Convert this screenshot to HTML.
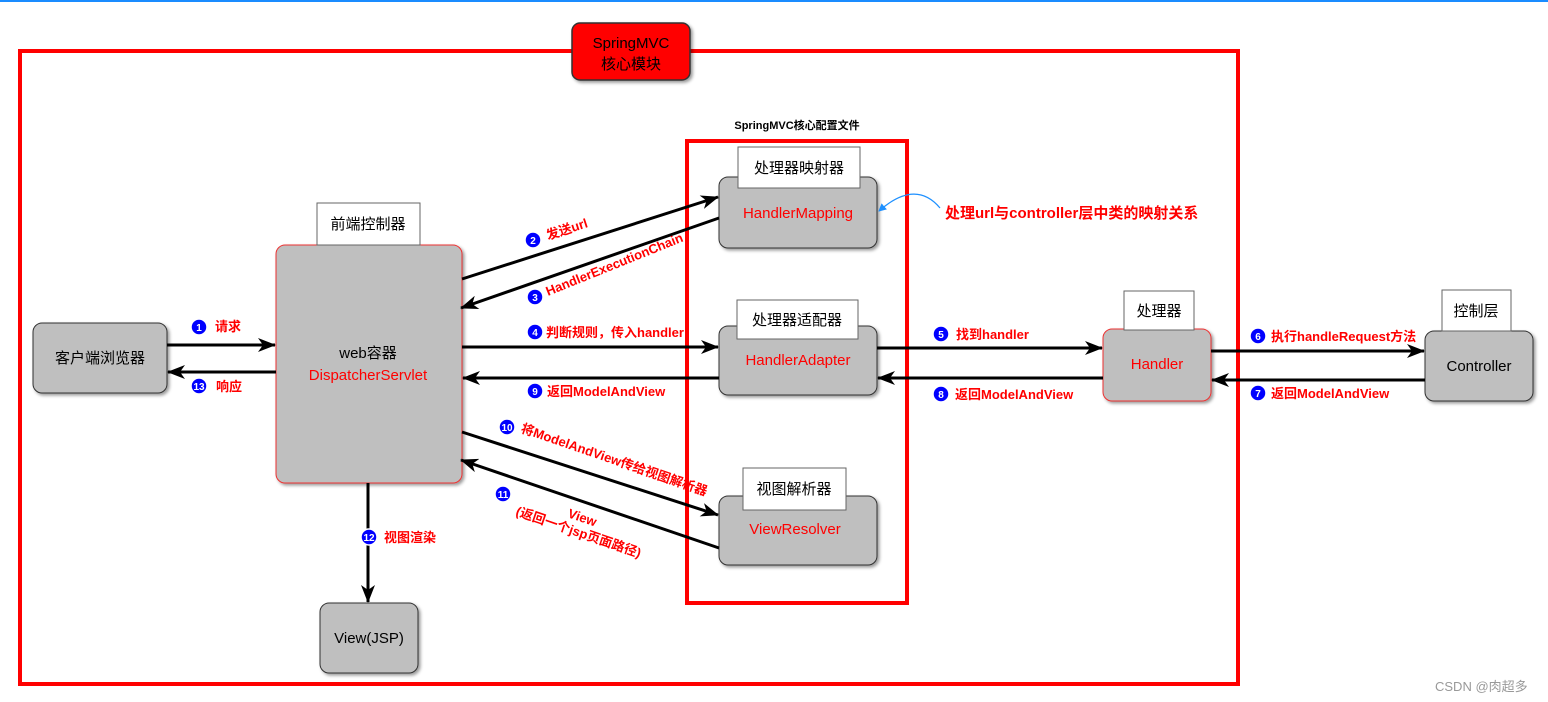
<!DOCTYPE html>
<html><head><meta charset="utf-8"><style>
body{margin:0;background:#fff;}
svg{display:block;font-family:"Liberation Sans","Noto Sans CJK SC",sans-serif;}
.r{fill:#f00;font-weight:bold;font-size:13px;}
.n{fill:#00f;stroke:#fff;stroke-width:1.5}
.nt{fill:#fff;font-size:10px;font-weight:bold;text-anchor:middle}
</style></head><body>
<svg width="1548" height="702" viewBox="0 0 1548 702">
<defs>
<marker id="a" markerWidth="18" markerHeight="14" refX="17" refY="7" orient="auto" markerUnits="userSpaceOnUse"><path d="M0,0 L18,7 L0,14 L5,7 z" fill="#000"/></marker>
<marker id="b" markerWidth="8" markerHeight="8" refX="7" refY="4" orient="auto" markerUnits="userSpaceOnUse"><path d="M0,0 L8,4 L0,8 z" fill="#1e90ff"/></marker>
<filter id="s" x="-10%" y="-10%" width="130%" height="130%"><feDropShadow dx="2" dy="2" stdDeviation="1.5" flood-opacity="0.4"/></filter>
</defs>
<rect x="0" y="0" width="1548" height="2" fill="#1a8cff"/>
<rect x="20" y="51" width="1218" height="633" fill="none" stroke="#f00" stroke-width="4"/>
<rect x="572" y="23" width="118" height="57" rx="8" fill="#f00" stroke="#333" stroke-width="1.5" filter="url(#s)"/>
<text x="631" y="48" text-anchor="middle" font-size="15">SpringMVC</text>
<text x="631" y="69" text-anchor="middle" font-size="15">核心模块</text>
<rect x="687" y="141" width="220" height="462" fill="none" stroke="#f00" stroke-width="4"/>
<text x="797" y="129" text-anchor="middle" font-size="11" font-weight="bold">SpringMVC核心配置文件</text>

<g font-size="15" text-anchor="middle">
<rect x="33" y="323" width="134" height="70" rx="9" fill="#bfbfbf" stroke="#333" filter="url(#s)"/>
<text x="100" y="363">客户端浏览器</text>
<rect x="276" y="245" width="186" height="238" rx="9" fill="#bfbfbf" stroke="#e33" filter="url(#s)"/>
<rect x="317" y="203" width="103" height="42" fill="#fff" stroke="#666"/>
<text x="368" y="229">前端控制器</text>
<text x="368" y="358">web容器</text>
<text x="368" y="380" fill="#f00">DispatcherServlet</text>

<rect x="719" y="177" width="158" height="71" rx="9" fill="#bfbfbf" stroke="#333" filter="url(#s)"/>
<rect x="738" y="147" width="122" height="41" fill="#fff" stroke="#666"/>
<text x="799" y="173">处理器映射器</text>
<text x="798" y="218" fill="#f00">HandlerMapping</text>

<rect x="719" y="326" width="158" height="69" rx="9" fill="#bfbfbf" stroke="#333" filter="url(#s)"/>
<rect x="737" y="300" width="121" height="39" fill="#fff" stroke="#666"/>
<text x="797" y="325">处理器适配器</text>
<text x="798" y="365" fill="#f00">HandlerAdapter</text>

<rect x="719" y="496" width="158" height="69" rx="9" fill="#bfbfbf" stroke="#333" filter="url(#s)"/>
<rect x="743" y="468" width="103" height="42" fill="#fff" stroke="#666"/>
<text x="794" y="494">视图解析器</text>
<text x="795" y="534" fill="#f00">ViewResolver</text>

<rect x="1103" y="329" width="108" height="72" rx="9" fill="#bfbfbf" stroke="#e33" filter="url(#s)"/>
<rect x="1124" y="291" width="70" height="39" fill="#fff" stroke="#666"/>
<text x="1159" y="316">处理器</text>
<text x="1157" y="369" fill="#f00">Handler</text>

<rect x="1425" y="331" width="108" height="70" rx="9" fill="#bfbfbf" stroke="#333" filter="url(#s)"/>
<rect x="1442" y="290" width="69" height="41" fill="#fff" stroke="#666"/>
<text x="1476" y="316">控制层</text>
<text x="1479" y="371">Controller</text>

<rect x="320" y="603" width="98" height="70" rx="9" fill="#bfbfbf" stroke="#333" filter="url(#s)"/>
<text x="369" y="643">View(JSP)</text>
</g>

<g stroke="#000" stroke-width="3" marker-end="url(#a)">
<line x1="167" y1="345" x2="275" y2="345"/>
<line x1="276" y1="372" x2="168" y2="372"/>
<line x1="462" y1="279" x2="718" y2="197"/>
<line x1="719" y1="218" x2="461" y2="308"/>
<line x1="462" y1="347" x2="718" y2="347"/>
<line x1="719" y1="378" x2="463" y2="378"/>
<line x1="462" y1="432" x2="718" y2="515"/>
<line x1="719" y1="548" x2="461" y2="460"/>
<line x1="368" y1="483" x2="368" y2="602"/>
<line x1="877" y1="348" x2="1102" y2="348"/>
<line x1="1103" y1="378" x2="878" y2="378"/>
<line x1="1211" y1="351" x2="1424" y2="351"/>
<line x1="1425" y1="380" x2="1212" y2="380"/>
</g>
<path d="M940,208 C925,190 905,188 879,211" fill="none" stroke="#1e90ff" stroke-width="1.2" marker-end="url(#b)"/>
<text x="945" y="218" font-size="15" font-weight="bold" fill="#f00">处理url与controller层中类的映射关系</text>

<g>
<circle class="n" cx="199" cy="327" r="8"/><text class="nt" x="199" y="331">1</text><text class="r" x="215" y="331">请求</text>
<circle class="n" cx="199" cy="386" r="8"/><text class="nt" x="199" y="390">13</text><text class="r" x="216" y="391">响应</text>
<circle class="n" cx="533" cy="240" r="8"/><text class="nt" x="533" y="244">2</text>
<text class="r" transform="translate(548,240) rotate(-18)">发送url</text>
<circle class="n" cx="535" cy="297" r="8"/><text class="nt" x="535" y="301">3</text>
<text class="r" transform="translate(548,296) rotate(-22)">HandlerExecutionChain</text>
<circle class="n" cx="535" cy="332" r="8"/><text class="nt" x="535" y="336">4</text><text class="r" x="546" y="337">判断规则，传入handler</text>
<circle class="n" cx="535" cy="391" r="8"/><text class="nt" x="535" y="395">9</text><text class="r" x="547" y="396">返回ModelAndView</text>
<circle class="n" cx="507" cy="427" r="8"/><text class="nt" x="507" y="431">10</text>
<text class="r" transform="translate(520,432) rotate(19)">将ModelAndView传给视图解析器</text>
<circle class="n" cx="503" cy="494" r="8"/><text class="nt" x="503" y="498">11</text>
<text class="r" transform="translate(567,517) rotate(19)">View</text>
<text class="r" transform="translate(515,515) rotate(19)">(返回一个jsp页面路径)</text>
<circle class="n" cx="369" cy="537" r="8"/><text class="nt" x="369" y="541">12</text><text class="r" x="384" y="542">视图渲染</text>
<circle class="n" cx="941" cy="334" r="8"/><text class="nt" x="941" y="338">5</text><text class="r" x="956" y="339">找到handler</text>
<circle class="n" cx="941" cy="394" r="8"/><text class="nt" x="941" y="398">8</text><text class="r" x="955" y="399">返回ModelAndView</text>
<circle class="n" cx="1258" cy="336" r="8"/><text class="nt" x="1258" y="340">6</text><text class="r" x="1271" y="341">执行handleRequest方法</text>
<circle class="n" cx="1258" cy="393" r="8"/><text class="nt" x="1258" y="397">7</text><text class="r" x="1271" y="398">返回ModelAndView</text>
</g>
<text x="1435" y="691" font-size="13" fill="#999">CSDN @肉超多</text>
</svg>
</body></html>
